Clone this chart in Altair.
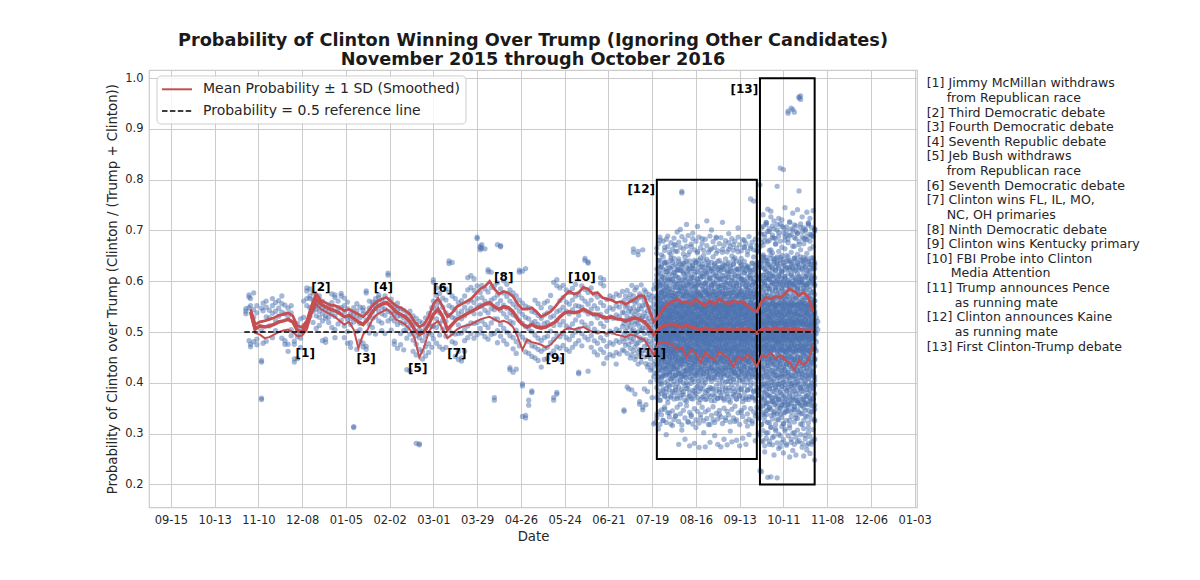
import altair as alt
import pandas as pd

TITLE_LINES = [
    "Probability of Clinton Winning Over Trump (Ignoring Other Candidates)",
    "November 2015 through October 2016",
]
MEAN_LABEL = "Mean Probability \u00b1 1 SD (Smoothed)"
REF_LABEL = "Probability = 0.5 reference line"

# Smoothed mean and +/- 1 SD bands, one value every 3 days from SMOOTH_START
SMOOTH_START = "2015-11-05"
SMOOTH_STEP_DAYS = 3
MEAN = [
    .540, .506, .512, .510, .512, .515, .520, .522, .525, .520,
    .503, .500, .515, .545, .565, .555, .550, .545, .542, .537,
    .530, .533, .527, .520, .515, .525, .540, .550, .555, .558,
    .550, .540, .535, .530, .520, .505, .495, .500, .515, .535,
    .545, .530, .505, .515, .525, .530, .535, .540, .545, .550,
    .555, .558, .550, .545, .550, .548, .540, .525, .515, .510,
    .515, .510, .508, .510, .515, .520, .530, .538, .540, .538,
    .540, .545, .540, .535, .535, .530, .528, .530, .526, .525,
    .522, .525, .528, .525, .520, .510, .495, .505, .512, .515,
    .515, .512, .510, .513, .510, .507, .505, .508, .505, .503,
    .505, .507, .505, .503, .505, .507, .505, .503, .498, .505,
    .507, .505, .508, .505, .507, .505, .506, .505, .503, .503,
    .503,
]
UPPER = [
    .545, .515, .520, .522, .525, .528, .533, .535, .538, .532,
    .512, .510, .522, .552, .576, .562, .558, .553, .552, .548,
    .542, .545, .540, .535, .530, .540, .552, .560, .565, .568,
    .560, .552, .548, .542, .535, .520, .510, .515, .530, .555,
    .566, .550, .530, .538, .550, .555, .560, .565, .575, .585,
    .590, .600, .585, .575, .580, .577, .570, .555, .545, .545,
    .548, .540, .530, .535, .540, .550, .562, .572, .580, .575,
    .578, .588, .585, .575, .578, .568, .565, .563, .558, .560,
    .555, .560, .565, .572, .570, .545, .520, .530, .545, .555,
    .560, .565, .558, .560, .555, .565, .558, .552, .562, .555,
    .565, .560, .555, .562, .558, .560, .552, .545, .540, .560,
    .568, .565, .570, .568, .575, .585, .580, .572, .578, .568,
    .540,
]
LOWER = [
    .535, .498, .495, .488, .490, .495, .500, .503, .505, .500,
    .492, .493, .505, .535, .555, .545, .540, .535, .530, .522,
    .515, .520, .505, .468, .495, .505, .525, .535, .540, .545,
    .538, .525, .520, .515, .505, .488, .450, .470, .500, .515,
    .522, .505, .488, .495, .505, .510, .513, .515, .520, .525,
    .528, .530, .525, .520, .522, .518, .510, .490, .465, .485,
    .480, .478, .475, .470, .475, .485, .495, .505, .508, .505,
    .508, .510, .505, .500, .498, .500, .497, .500, .495, .493,
    .490, .495, .493, .488, .485, .470, .455, .478, .480, .478,
    .475, .465, .470, .450, .465, .458, .440, .460, .450, .445,
    .462, .455, .448, .432, .452, .445, .455, .448, .432, .455,
    .450, .460, .447, .455, .445, .440, .425, .445, .435, .445,
    .475,
]

# National poll results (thousandths), keyed by day of month
POLLS_2015_11 = {
    2: "541 546 536", 4: "573 569 548 483", 5: "566 552 476 471",
    7: "577 544 529 481", 9: "552 538 486 475", 12: "370 367 441 444 547 503",
    13: "557 542 478", 15: "549 561 530 482", 17: "543 528 512",
    19: "566 552 537 489", 21: "558 541 522 503", 23: "562 547 531",
    25: "571 556 539 488", 27: "553 536 483 476", 29: "547 531 462 476",
}
POLLS_2015_12 = {
    1: "538 552 493 505", 3: "482 476 447 441", 5: "448 491 502 517",
    7: "497 506 470 488 526", 9: "512 529 561 503", 11: "587 581 566 552",
    13: "566 571 548 531 585", 15: "577 563 547 541 519", 17: "558 545 532 551 507",
    19: "541 553 571 529 513", 21: "548 561 536 522 483", 23: "532 545 527 480 486",
    25: "553 540 519 529", 27: "575 546 558 536 509", 29: "573 568 531 505 489",
    31: "561 548 539 516",
}
POLLS_2016_01 = {
    2: "576 571 548 523", 4: "567 552 540 512 489", 6: "559 546 525 501 478",
    8: "537 527 479 470 515", 10: "314 312 548 536 520", 12: "532 541 556 501 466",
    14: "528 517 505 482 549", 16: "543 536 548 478 471", 18: "581 577 524 466 472",
    20: "547 535 515 498 561", 22: "553 559 540 527 509", 24: "566 558 547 530 496",
    26: "573 568 553 541 522", 28: "562 549 536 518 503", 30: "571 557 545 533 497",
}
POLLS_2016_02 = {
    1: "616 612 557 541 522", 3: "565 553 538 527 504", 5: "548 536 522 482 476",
    7: "557 545 531 468 515", 9: "546 532 519 475 497", 11: "543 528 516 503 465",
    13: "535 521 507 488 426", 15: "541 526 512 496 424", 17: "532 519 501 484 462",
    19: "281 527 515 493 476 455", 21: "278 280 521 505 489 466", 23: "518 502 483 462 447",
    25: "528 509 492 471 453", 27: "537 516 498 477 460", 29: "548 529 511 495 470",
}
POLLS_2016_03 = {
    1: "603 598 561 547 512 487", 3: "587 572 553 526 509 478", 5: "576 559 538 517 494 471",
    7: "592 567 549 523 506 466", 9: "585 563 538 521 492 470", 11: "640 635 578 552 533 505",
    13: "637 571 548 529 498 481", 15: "566 544 527 496 478 452", 17: "558 536 514 497 462 446",
    19: "562 541 526 498 449 443", 21: "571 549 532 505 483 462", 23: "607 583 559 541 512 489",
    25: "611 588 563 547 518 497", 27: "605 582 558 536 517 488", 29: "687 684 591 566 549 519 495",
    31: "669 662 666 578 553 536 507",
}
POLLS_2016_04 = {
    1: "672 665 592 568 551 522 498", 3: "664 585 561 543 515 491", 5: "623 619 579 556 538 509 486",
    7: "618 588 563 546 518 495", 9: "366 371 591 567 544 526 497", 11: "672 597 573 555 526 503 479",
    13: "668 670 585 562 543 515 492", 15: "601 577 553 536 507 483", 17: "594 570 547 529 500 476",
    19: "583 561 538 521 493 430 426", 21: "577 555 534 518 489 467 421", 23: "571 549 531 504 481 458 427",
    25: "622 618 563 541 524 496 473", 27: "620 557 535 517 490 398 394 334", 29: "625 551 529 511 484 461 331 336",
}
POLLS_2016_05 = {
    1: "366 356 548 526 507 481 458", 3: "384 381 541 518 501 473 452", 5: "563 539 521 494 471 449",
    7: "556 533 515 488 466 444", 9: "548 527 509 483 462 431", 11: "557 534 517 489 467 446",
    13: "561 538 519 492 470 448", 15: "572 548 529 502 479 457", 17: "598 371 366 532 513 486 463",
    19: "603 591 378 381 540 522 494 471", 21: "587 562 543 514 491 468 446", 23: "592 568 549 521 497 474",
    25: "583 559 541 512 489 466", 27: "578 555 536 508 485 462", 29: "586 563 544 516 493 470",
    31: "594 571 552 524 500 477",
}
POLLS_2016_06 = {
    2: "574 551 533 506 483 421 418", 4: "591 567 549 520 497 473", 6: "645 641 584 561 542 514 490",
    8: "638 636 578 555 536 508 485 423", 10: "587 563 545 517 493 470", 12: "575 552 534 506 483 461",
    14: "569 546 528 500 478 455", 16: "607 596 558 535 517 489 466", 18: "603 591 552 529 511 483 460 438",
    20: "564 541 523 495 472 449", 22: "571 548 530 502 479 456", 24: "568 545 527 499 476 453",
    26: "575 552 534 506 483 460 437", 28: "572 549 531 503 480 457", 30: "580 557 539 511 488 465",
}
POLLS_2016_07 = {
    1: "347 344 562 538 517 496 481 463", 2: "571 549 523 502 474", 3: "582 553 531 509 488 458 392",
    4: "566 541 519 497 476 388", 5: "574 546 527 511 490 468 449", 6: "592 562 539 520 502 481 455 386",
    7: "664 657 571 548 529 505 486 463", 8: "583 557 534 515 494 471 446 378", 9: "588 561 541 522 498 477 452",
    10: "659 652 567 544 518 501 479 461 437", 11: "575 552 533 511 489 466 363 358",
    12: "593 569 546 527 503 484 458 441", 13: "662 571 552 530 508 486 464 352 347",
    14: "583 561 538 519 497 472 451 388", 15: "579 554 531 509 485 463 438 357",
    16: "568 542 521 498 476 452 431 383", 17: "574 549 527 505 482 458 436",
    18: "563 537 514 493 469 447 425 402", 19: "571 547 522 501 477 455 428 371",
    20: "585 556 532 508 486 461 437 412 319", 21: "594 566 541 517 495 468 443 419 322",
    22: "512 498 533 474 551 462 587 419 603 391 655 338 496 528 471 541 486 553 457 571 436 612",
    23: "527 489 506 468 546 443 572 411 618 377 641 309 503 479 532 458 518 566 446 584 423 599",
    24: "503 521 485 539 457 561 436 594 402 627 366 681 491 514 467 535 499 548 453 577 429 641",
    25: "518 494 531 476 549 452 578 425 609 398 632 347 505 482 526 461 539 557 444 568 412 592",
    26: "509 487 526 463 544 448 569 413 597 384 648 326 497 519 474 531 488 552 459 581 433 607",
    27: "515 501 538 479 556 441 583 428 612 375 667 352 485 508 462 527 493 545 448 574 419 636",
    28: "521 492 507 471 542 455 591 417 624 389 638 298 499 531 476 517 464 558 441 569 427 587",
    29: "498 514 483 529 466 552 437 575 404 603 361 689 508 489 523 469 537 495 456 583 432 619",
    30: "511 526 489 543 473 561 449 586 421 615 394 341 494 517 478 533 463 549 451 572 416 603",
    31: "506 519 481 535 462 557 439 579 408 626 372 653 501 486 528 457 541 492 445 566 425 646",
}
POLLS_2016_08 = {
    1: "513 497 529 478 548 459 571 432 604 397 637 316 492 518 466 535 501 557 449 583 421 611",
    2: "508 522 486 541 468 563 445 589 414 618 381 672 497 474 529 458 513 548 437 572 428 645",
    3: "517 494 533 472 551 453 576 427 611 386 659 334 488 509 463 541 496 552 451 567 416 598",
    4: "502 525 488 539 461 567 442 596 409 629 369 697 506 481 527 469 518 561 443 588 431 621",
    5: "519 491 536 475 554 447 582 418 623 392 644 279 495 512 472 538 487 549 458 576 424 607",
    6: "505 528 484 546 466 559 435 601 403 634 358 702 499 521 466 534 479 556 447 581 419 589",
    7: "777 774 512 493 531 469 553 441 587 412 621 376 307 487 516 462 528 501 547 452 573 437 628",
    8: "509 524 487 542 463 572 451 593 416 636 383 664 503 478 531 459 517 553 444 569 423 614",
    9: "514 499 535 473 557 444 579 423 608 395 647 289 491 524 469 539 485 558 448 586 411 602",
    10: "503 521 482 538 459 564 437 591 401 617 364 712 498 513 475 532 468 551 455 578 426 639",
    11: "518 496 529 471 549 455 573 429 614 388 652 323 489 507 461 536 494 546 441 571 418 595",
    12: "507 527 485 544 467 561 446 598 411 631 374 276 502 519 477 527 464 559 452 583 433 624",
    13: "512 493 533 477 552 449 584 425 606 399 668 337 496 482 523 466 538 489 446 574 421 609",
    14: "501 519 488 540 464 566 438 592 407 625 368 695 493 516 471 534 503 549 457 568 428 632",
    15: "516 497 530 474 556 452 577 431 613 384 641 281 488 524 465 541 498 556 443 587 417 601",
    16: "509 523 486 547 461 569 443 589 415 637 379 312 501 478 529 462 514 547 451 571 436 618",
    17: "513 491 534 476 551 448 581 421 605 393 659 708 495 517 473 536 486 559 447 579 425 593",
    18: "504 526 483 541 465 563 436 597 404 628 361 273 492 509 468 531 497 553 455 576 419 642",
    19: "517 495 531 472 548 454 574 427 612 389 646 331 504 483 526 459 519 545 449 572 431 606",
    20: "506 522 487 545 462 567 441 591 413 633 372 684 490 521 474 538 482 557 442 584 423 615",
    21: "511 498 536 478 553 451 583 426 609 396 651 302 497 512 463 529 505 548 453 569 418 627",
    22: "502 520 484 539 466 560 439 595 406 621 367 274 493 526 477 543 488 552 446 578 434 597",
    23: "515 493 532 473 550 447 578 422 616 385 643 719 501 479 532 465 516 561 458 575 422 612",
    24: "508 525 489 543 463 571 444 587 412 630 377 318 486 514 469 537 495 546 441 583 427 638",
    25: "513 496 528 475 555 453 576 430 607 391 662 283 499 521 476 528 483 555 448 571 416 604",
    26: "505 521 486 540 460 565 437 593 408 626 365 701 494 508 462 535 501 549 454 586 429 621",
    27: "516 494 534 477 549 450 580 424 614 387 648 327 489 523 471 541 497 558 445 573 424 595",
    28: "503 527 482 546 468 562 442 596 410 635 374 296 505 482 527 463 518 547 452 579 437 611",
    29: "512 499 531 471 552 455 573 428 610 394 655 687 491 516 474 533 487 554 443 567 419 629",
    30: "507 523 488 542 464 568 440 590 416 624 369 279 498 511 466 539 502 551 457 582 426 608",
    31: "514 492 537 474 557 448 585 423 604 382 641 338 493 525 478 532 484 546 449 576 431 617",
}
POLLS_2016_09 = {
    1: "509 524 485 541 467 564 443 592 409 627 371 274 497 482 526 464 517 553 446 574 422 603",
    2: "515 497 533 476 551 452 579 426 611 393 657 716 489 512 471 538 496 549 452 581 418 626",
    3: "504 520 487 544 462 569 438 588 414 632 366 289 502 519 467 531 485 557 443 569 429 611",
    4: "511 494 530 473 554 449 575 431 606 385 644 331 494 476 528 461 539 548 455 587 425 597",
    5: "506 526 483 539 465 561 441 597 403 621 374 278 498 516 473 534 491 552 447 576 417 634",
    6: "517 491 535 478 548 456 582 425 615 390 663 694 487 523 465 541 503 559 451 571 432 608",
    7: "502 522 489 545 460 566 436 593 411 629 362 305 505 481 531 468 514 546 442 583 424 619",
    8: "513 498 529 470 553 451 577 429 608 397 650 284 492 518 476 537 488 554 458 572 419 601",
    9: "507 525 484 542 467 563 445 590 407 634 378 672 499 509 463 529 497 551 444 578 428 643",
    10: "514 493 536 475 556 447 584 420 613 383 646 324 488 524 472 539 481 547 453 585 421 612",
    11: "503 519 488 540 463 570 439 595 415 624 368 287 501 515 466 533 492 556 448 570 434 596",
    12: "516 496 532 472 550 453 574 427 609 392 658 705 495 478 527 459 518 549 456 579 416 623",
    13: "508 527 485 547 461 562 442 591 410 637 375 276 490 521 474 536 499 558 441 573 427 609",
    14: "512 490 534 476 555 448 580 423 603 388 645 342 503 512 468 542 486 545 452 582 423 631",
    15: "505 521 487 543 466 567 437 596 406 626 363 291 496 483 529 462 515 553 447 574 419 604",
    16: "517 497 530 473 549 454 578 432 617 395 667 681 489 517 475 534 493 557 454 568 431 616",
    17: "502 524 483 538 462 565 444 589 413 631 371 279 498 526 463 538 482 548 445 586 424 599",
    18: "514 492 535 479 552 446 583 421 607 386 652 315 493 509 471 531 504 552 458 577 418 627",
    19: "506 520 489 544 464 569 440 594 409 622 367 298 502 519 466 540 489 546 443 571 429 611",
    20: "511 495 528 471 557 451 576 428 612 396 665 762 487 524 477 535 496 559 451 583 425 606",
    21: "504 526 486 541 459 564 438 592 416 635 373 325 499 481 528 461 516 550 448 575 417 621",
    22: "515 499 533 474 551 455 581 425 605 384 648 758 491 513 472 537 487 555 457 569 432 598",
    23: "507 522 484 546 463 568 443 597 411 628 365 286 504 521 467 530 498 547 442 584 426 613",
    24: "513 494 531 478 554 450 573 430 610 391 660 339 495 508 474 543 483 556 453 578 419 637",
    25: "508 523 487 540 466 562 439 588 414 633 376 301 492 518 469 534 501 549 446 572 428 605",
    26: "790 512 494 536 471 558 446 589 418 627 391 668 348 227 497 523 468 541 486 559 437 612 401 637 352 694",
    27: "509 527 483 548 462 571 437 603 409 641 372 693 317 225 491 516 474 537 502 554 445 589 411 628 366 676",
    28: "516 498 539 476 554 451 584 427 612 398 652 356 731 286 503 486 528 459 517 563 432 601 396 649 338 708",
    29: "503 521 486 543 468 566 442 597 414 633 381 679 334 264 494 521 471 544 488 557 448 593 405 624 371 687",
    30: "514 491 532 473 559 455 591 423 619 395 647 362 712 301 499 512 463 536 482 571 441 608 414 641 345 715",
}
POLLS_2016_10 = {
    1: "507 526 488 545 465 573 439 604 411 638 377 742 322 214 488 519 476 531 505 552 434 586 399 617 359 698",
    2: "518 495 534 477 552 449 586 428 615 389 661 351 703 279 496 527 467 542 491 561 446 605 408 633 374 681",
    3: "502 523 484 541 463 568 444 599 407 629 373 738 313 215 501 483 529 458 516 555 439 591 417 652 348 727",
    4: "513 497 530 471 557 452 581 425 610 396 656 364 686 292 492 518 473 539 487 564 443 598 402 626 363 691",
    5: "508 520 487 547 466 563 438 595 416 636 383 719 341 258 497 514 465 533 499 558 436 611 409 644 337 703",
    6: "515 493 537 474 553 447 588 422 621 392 645 359 674 306 489 522 478 546 484 553 447 587 415 621 369 684",
    7: "504 528 482 544 461 575 441 602 409 634 376 787 328 213 504 516 469 538 493 567 431 603 398 638 352 712",
    8: "511 498 533 478 556 453 583 427 613 398 659 367 724 271 495 481 527 462 518 556 442 594 411 629 344 696",
    9: "506 522 485 540 467 569 436 596 415 642 381 823 337 296 491 519 474 541 486 551 438 609 404 647 367 679",
    10: "517 494 531 472 551 450 587 424 618 393 651 357 708 283 498 524 466 532 503 562 445 588 413 619 356 721",
    11: "503 525 489 546 464 566 443 600 412 631 374 820 319 262 493 512 479 537 489 558 433 597 401 636 341 706",
    12: "514 496 535 476 558 448 579 426 609 397 664 362 745 309 501 518 463 545 484 554 448 606 416 623 372 688",
    13: "508 521 483 542 462 572 437 593 418 639 385 691 344 277 496 486 529 459 514 565 437 592 407 651 349 699",
    14: "515 492 538 470 554 454 585 421 616 391 648 353 935 931 490 521 476 535 498 557 444 601 412 627 365 683",
    15: "502 527 486 543 466 564 442 598 410 627 378 716 326 254 503 515 468 542 487 552 435 589 403 641 358 717",
    16: "512 497 529 477 552 451 582 428 611 399 657 368 941 289 494 522 472 538 501 561 449 596 414 632 343 692",
    17: "507 520 484 548 461 570 439 594 413 636 382 734 938 267 499 483 527 463 517 556 438 608 399 624 371 701",
    18: "516 495 536 473 557 446 589 423 620 394 669 347 933 302 492 519 475 534 489 553 446 591 408 645 354 686",
    19: "504 523 488 541 465 567 444 601 408 644 371 698 331 258 497 513 467 541 485 566 432 603 415 629 366 709",
    20: "511 498 532 471 553 453 584 425 614 396 653 361 741 284 489 524 478 537 502 554 443 587 402 637 347 694",
    21: "506 526 485 546 463 574 438 597 417 632 379 778 963 961 502 516 464 532 491 559 439 599 411 622 362 678",
    22: "517 493 534 475 556 449 586 422 608 390 662 355 965 958 495 521 473 544 486 557 447 604 405 648 339 713",
    23: "503 521 489 543 467 563 441 599 411 640 384 727 318 273 491 482 528 461 515 553 434 593 417 626 368 697",
    24: "513 496 531 472 558 455 580 429 617 398 647 364 705 256 498 517 469 539 503 562 445 588 409 634 351 684",
    25: "508 524 483 547 464 568 436 592 414 628 373 683 335 297 493 523 476 533 488 556 441 607 403 643 359 702",
    26: "515 491 537 476 551 452 587 425 611 392 655 358 736 268 500 514 466 540 494 551 436 595 414 621 373 689",
    27: "504 527 486 540 462 571 443 596 409 637 381 711 312 281 496 519 472 545 485 564 448 602 407 639 346 715",
    28: "512 494 533 478 555 447 583 427 619 395 664 366 724 261 490 485 529 462 513 558 433 590 416 628 364 693",
    29: "507 522 488 545 466 565 440 603 415 633 376 689 343 279 503 518 475 536 492 553 442 609 401 646 355 706",
    30: "514 497 530 471 553 454 578 423 612 388 646 354 739 285 494 522 468 543 487 557 439 597 412 624 369 688",
    31: "509 519 485 542 468 562 445 594 412 625 379 702 327 248 499 516 473 538 502 561 446 591 405 633 348 699",
}
POLLS_2016_11 = {1: "528 512 497 481 463", 2: "521 505"}

# State-level polls added once the general-election campaign started
STATE_POLLS_2016_07 = {
    22: "452 468 487 499 514 526 541 556 371 405 433 567 589 624 331 665",
    23: "461 474 491 503 517 533 546 559 384 412 437 574 598 631 343 674",
    24: "447 463 480 494 508 529 538 552 366 398 426 563 592 615 318 687",
    25: "455 469 485 502 511 524 543 557 379 409 439 578 604 628 337 652",
    26: "449 466 478 493 506 519 535 548 388 417 431 569 587 622 326 679",
    27: "463 476 489 505 513 531 547 561 373 401 442 576 601 637 348 661",
    28: "451 472 484 497 509 523 539 553 381 414 428 565 595 619 322 683",
    29: "457 465 482 501 516 527 544 558 369 396 435 572 606 633 341 668",
    30: "446 473 488 495 507 532 536 549 386 419 441 579 591 626 333 657",
    31: "459 467 486 498 512 525 542 555 375 408 429 566 599 641 319 676",
}
STATE_POLLS_2016_08 = {
    1: "453 470 481 500 515 528 540 554 383 411 436 571 602 629 345 663",
    2: "462 475 490 496 508 521 545 559 368 403 432 577 594 617 328 685",
    3: "448 464 487 503 511 534 537 551 391 415 440 564 588 634 336 671",
    4: "456 471 479 494 518 526 548 556 374 399 427 574 608 623 352 659",
    5: "450 468 492 499 510 530 541 553 382 418 438 568 597 639 324 677",
    6: "464 473 484 502 513 522 536 560 370 406 433 580 590 621 339 667",
    7: "447 466 489 497 516 529 543 552 387 413 443 566 603 632 317 688",
    8: "458 477 483 504 509 524 539 557 377 400 430 575 596 618 346 654",
    9: "452 462 486 495 517 533 546 550 366 416 437 570 586 636 331 681",
    10: "460 469 480 501 512 527 538 555 389 410 425 578 605 627 355 669",
    11: "449 474 491 498 507 520 544 558 372 397 441 563 593 624 323 690",
    12: "455 467 485 503 514 535 540 551 380 419 434 573 600 640 342 658",
    13: "463 472 488 496 511 526 547 554 369 407 429 567 591 620 334 673",
    14: "446 465 482 500 519 523 537 559 385 414 439 576 607 631 319 684",
    15: "457 476 490 494 508 531 542 553 376 402 436 569 595 625 349 662",
    16: "451 463 484 505 515 528 549 556 390 417 426 579 589 638 327 679",
    17: "461 470 479 497 510 521 536 552 371 409 442 565 604 619 344 656",
    18: "448 475 487 502 516 532 545 557 383 398 431 574 598 634 321 687",
    19: "459 468 492 499 509 525 539 550 367 415 440 571 592 622 338 666",
    20: "454 464 481 495 513 530 543 558 388 405 428 577 609 629 352 675",
    21: "462 473 486 504 518 524 538 555 374 418 437 566 596 641 325 661",
    22: "447 469 489 498 506 533 546 551 381 400 433 580 588 618 343 683",
    23: "456 477 483 501 514 522 541 559 368 413 444 568 602 633 330 670",
    24: "450 466 491 496 511 529 537 553 386 408 429 575 594 626 347 657",
    25: "463 471 480 503 517 527 548 556 373 419 438 563 606 620 318 689",
    26: "452 474 485 500 508 534 540 552 389 403 432 572 591 637 336 664",
    27: "458 462 488 494 515 521 544 557 377 411 443 578 599 624 353 678",
    28: "445 470 482 502 512 531 539 550 365 416 427 567 587 632 322 667",
    29: "460 476 490 497 509 526 545 558 384 406 439 574 603 619 340 685",
    30: "453 465 487 505 516 523 536 554 370 417 434 570 595 639 329 660",
    31: "461 472 481 499 510 532 547 551 387 399 441 579 590 627 346 674",
}
STATE_POLLS_2016_09 = {
    1: "449 468 486 503 513 525 542 556 375 412 430 565 605 621 333 686",
    2: "457 474 492 495 518 530 538 559 382 404 437 573 592 635 320 663",
    3: "451 463 483 501 507 527 546 552 369 418 442 576 598 623 350 671",
    4: "464 477 488 498 514 522 541 557 390 401 428 569 587 630 326 680",
    5: "446 469 480 504 511 534 544 550 378 415 436 577 607 618 344 658",
    6: "458 466 491 497 516 528 537 555 366 409 440 564 596 637 337 676",
    7: "453 475 485 500 509 520 549 558 385 402 431 575 589 626 323 668",
    8: "462 464 489 496 517 533 540 553 372 416 438 568 601 620 348 684",
    9: "448 471 482 502 512 526 545 551 389 407 426 579 593 633 331 661",
    10: "456 476 487 505 508 524 539 556 376 419 443 566 604 622 354 679",
    11: "450 467 490 499 515 531 546 559 368 400 432 574 590 640 327 665",
    12: "463 473 484 494 510 527 538 552 383 412 437 570 599 625 341 687",
    13: "447 465 488 503 519 522 543 557 374 405 429 578 586 617 318 672",
    14: "459 478 481 500 513 535 540 554 387 417 441 565 606 634 346 660",
    15: "452 462 492 496 506 529 547 550 370 403 434 573 594 624 334 682",
    16: "461 470 486 504 516 523 536 558 380 414 427 568 602 639 351 667",
    17: "446 474 483 498 511 532 544 553 367 410 439 576 591 621 324 675",
    18: "457 466 489 501 518 525 541 556 386 401 435 571 597 630 339 659",
    19: "454 477 480 495 508 530 548 551 373 418 442 564 588 627 328 688",
    20: "460 469 491 502 514 521 537 557 388 406 430 579 605 619 349 669",
    21: "448 463 485 497 510 534 545 552 371 413 438 567 593 636 320 677",
    22: "458 475 487 505 517 526 539 559 382 399 426 575 600 623 343 662",
    23: "451 468 482 499 512 528 542 554 369 416 444 570 589 632 335 683",
    24: "463 472 490 496 509 533 546 550 384 408 433 577 596 620 352 671",
    25: "449 464 484 503 515 524 538 556 376 411 440 566 607 628 330 658",
    26: "455 472 489 506 521 538 553 362 387 414 576 603 629 297 331 682",
    27: "448 466 484 499 517 532 549 371 396 428 569 594 638 284 318 705",
    28: "461 478 493 510 526 541 557 354 381 419 581 612 647 306 342 671",
    29: "452 469 486 503 514 535 551 367 392 431 573 599 624 276 325 693",
    30: "458 475 491 508 523 544 556 359 385 422 578 607 641 291 338 716",
}
STATE_POLLS_2016_10 = {
    1: "447 463 482 497 519 530 548 376 399 434 566 591 633 302 347 678",
    2: "460 471 488 505 515 539 554 351 388 417 584 604 627 285 321 698",
    3: "453 468 494 501 522 533 550 364 394 425 571 613 645 312 336 662",
    4: "449 476 485 509 518 543 557 370 383 436 577 596 622 278 329 709",
    5: "464 467 490 498 524 536 552 357 401 420 568 608 639 295 344 685",
    6: "451 473 483 507 513 531 549 373 390 429 583 600 629 309 318 673",
    7: "457 479 492 502 520 540 555 361 386 415 574 593 648 282 339 701",
    8: "446 465 487 511 516 534 551 368 397 433 565 611 625 299 327 689",
    9: "462 470 481 504 525 537 558 352 384 424 579 598 636 274 349 713",
    10: "450 477 495 500 519 542 553 377 393 418 572 605 621 314 332 667",
    11: "459 464 486 506 514 529 547 363 402 430 580 590 643 288 320 696",
    12: "454 472 489 497 521 535 556 356 389 426 567 609 631 305 341 681",
    13: "448 468 493 509 517 545 550 369 382 437 576 597 626 280 326 707",
    14: "463 474 484 503 523 532 554 358 398 421 570 602 640 296 345 676",
    15: "452 466 491 499 515 538 548 374 387 432 585 594 623 311 317 690",
    16: "458 478 482 507 526 541 557 360 395 416 573 614 637 283 334 703",
    17: "447 469 488 502 518 533 552 366 391 428 564 601 628 301 348 669",
    18: "461 475 494 510 513 539 549 353 384 435 578 595 646 279 323 711",
    19: "455 463 485 498 524 530 555 378 400 419 569 606 622 293 337 684",
    20: "450 471 490 505 520 546 551 365 386 423 582 592 634 307 330 695",
    21: "464 477 487 501 516 536 558 359 397 431 575 610 627 286 343 672",
    22: "449 467 483 508 522 534 547 372 389 426 566 598 642 298 319 706",
    23: "456 473 492 496 519 543 553 355 392 418 579 603 624 281 340 687",
    24: "460 465 486 504 515 531 550 367 383 434 571 596 638 310 326 674",
    25: "451 476 489 500 525 540 556 361 399 422 583 609 629 290 346 699",
    26: "457 470 495 506 517 537 548 375 387 429 568 593 645 277 333 682",
    27: "446 464 484 511 523 533 554 357 394 417 577 612 621 303 321 714",
    28: "462 478 491 499 514 544 552 370 385 436 572 600 633 294 338 679",
    29: "453 468 488 503 520 530 557 363 398 424 565 604 640 284 329 692",
    30: "459 474 482 509 516 539 549 368 390 420 580 597 626 308 344 668",
    31: "448 466 493 502 524 535 551 356 396 433 574 607 637 289 325 703",
}

POLL_MONTHS = [
    (2015, 11, POLLS_2015_11), (2015, 12, POLLS_2015_12),
    (2016, 1, POLLS_2016_01), (2016, 2, POLLS_2016_02), (2016, 3, POLLS_2016_03),
    (2016, 4, POLLS_2016_04), (2016, 5, POLLS_2016_05), (2016, 6, POLLS_2016_06),
    (2016, 7, POLLS_2016_07), (2016, 8, POLLS_2016_08), (2016, 9, POLLS_2016_09),
    (2016, 10, POLLS_2016_10), (2016, 11, POLLS_2016_11),
    (2016, 7, STATE_POLLS_2016_07), (2016, 8, STATE_POLLS_2016_08),
    (2016, 9, STATE_POLLS_2016_09), (2016, 10, STATE_POLLS_2016_10),
]

# Event markers: label, date, probability where the label sits
EVENTS = [
    ("[1]", "2015-12-10", 0.458), ("[2]", "2015-12-20", 0.588),
    ("[3]", "2016-01-18", 0.448), ("[4]", "2016-01-29", 0.588),
    ("[5]", "2016-02-20", 0.430), ("[6]", "2016-03-07", 0.587),
    ("[7]", "2016-03-16", 0.459), ("[8]", "2016-04-15", 0.608),
    ("[9]", "2016-05-18", 0.449), ("[10]", "2016-06-04", 0.609),
    ("[11]", "2016-07-19", 0.458), ("[12]", "2016-07-12", 0.782),
    ("[13]", "2016-09-16", 0.978),
]
# Key to the event markers; a zero-width space keeps the indent from being trimmed
IND = "\u200b" + "\u00a0"
EVENT_NOTES = [
    "[1] Jimmy McMillan withdraws", IND + "\u00a0" * 4 + "from Republican race",
    "[2] Third Democratic debate",
    "[3] Fourth Democratic debate",
    "[4] Seventh Republic debate",
    "[5] Jeb Bush withdraws", IND + "\u00a0" * 4 + "from Republican race",
    "[6] Seventh Democratic debate",
    "[7] Clinton wins FL, IL, MO,", IND + "\u00a0" * 4 + "NC, OH primaries",
    "[8] Ninth Democratic debate",
    "[9] Clinton wins Kentucky primary",
    "[10] FBI Probe into Clinton", IND + "\u00a0" * 5 + "Media Attention",
    "[11] Trump announces Pence", IND + "\u00a0" * 6 + "as running mate",
    "[12] Clinton announces Kaine", IND + "\u00a0" * 6 + "as running mate",
    "[13] First Clinton-Trump debate",
]
# Highlighted windows: start, end, low, high
BOXES = [
    ("2016-07-22", "2016-09-24", 0.25, 0.80),
    ("2016-09-26", "2016-10-31", 0.20, 1.00),
]
REF_SPAN = ("2015-11-01", "2016-10-31")
X_DOMAIN = ("2015-09-01T00:00", "2017-01-04T12:00")
X_TICKS = [
    "2015-09-15", "2015-10-13", "2015-11-10", "2015-12-08", "2016-01-05",
    "2016-02-02", "2016-03-01", "2016-03-29", "2016-04-26", "2016-05-24",
    "2016-06-21", "2016-07-19", "2016-08-16", "2016-09-13", "2016-10-11",
    "2016-11-08", "2016-12-06", "2017-01-03",
]
Y_DOMAIN = (0.155, 1.016)
Y_TICKS = [0.2, 0.3, 0.4, 0.5, 0.6, 0.7, 0.8, 0.9, 1.0]

BLUE = "#4c72b0"
RED = "#c44e52"
INK = "#262626"
FONT = "DejaVu Sans"
DASH = [5.5, 2.4]


def to_dt(s):
    t = pd.Timestamp(s)
    return alt.DateTime(year=t.year, month=t.month, date=t.day,
                        hours=t.hour, minutes=t.minute, utc=True)


rows = []
for year, month, days in POLL_MONTHS:
    for day, vals in days.items():
        for v in vals.split():
            rows.append({"date": f"{year}-{month:02d}-{day:02d}", "p": int(v) / 1000})
polls = pd.DataFrame(rows)

smooth_dates = pd.date_range(SMOOTH_START, periods=len(MEAN),
                             freq=f"{SMOOTH_STEP_DAYS}D").strftime("%Y-%m-%d")
lines = pd.concat([
    pd.DataFrame({"date": smooth_dates, "p": vals, "series": name})
    for name, vals in (("upper", UPPER), ("lower", LOWER), ("mean", MEAN))
], ignore_index=True)
ref = pd.DataFrame({"date": list(REF_SPAN), "p": [0.5, 0.5]})
boxes = pd.DataFrame(BOXES, columns=["start", "end", "low", "high"])
events = pd.DataFrame(EVENTS, columns=["label", "date", "p"])

x_scale = alt.Scale(type="utc", domain=[to_dt(d) for d in X_DOMAIN])
y_scale = alt.Scale(domain=list(Y_DOMAIN), nice=False, zero=False)
x_axis = alt.Axis(values=[to_dt(d) for d in X_TICKS],
                  labelExpr="utcFormat(datum.value, '%m-%d')",
                  title="Date", labelPadding=7, titlePadding=4, labelFlush=False,
                  labelOverlap=False)
y_axis = alt.Axis(values=Y_TICKS, format=".1f", labelPadding=6, titlePadding=5,
                  title="Probability of Clinton over Trump (Clinton / (Trump + Clinton))")


def X(field):
    return alt.X(field, type="temporal", scale=x_scale, axis=x_axis)


def Y(field):
    return alt.Y(field, type="quantitative", scale=y_scale, axis=y_axis)


points = alt.Chart(polls).mark_circle(size=28, opacity=0.5, color=BLUE).encode(
    x=X("date"), y=Y("p")
)

windows = alt.Chart(boxes).mark_rect(fillOpacity=0, stroke="black", strokeWidth=2).encode(
    x=X("start"), x2="end", y=Y("low"), y2="high"
)

trend = alt.Chart(lines).mark_line(color=RED).encode(
    x=X("date"), y=Y("p"),
    strokeWidth=alt.StrokeWidth("series:N", legend=None,
                                scale=alt.Scale(domain=["mean", "upper", "lower"],
                                                range=[3.5, 2, 2])),
    detail="series:N",
)

reference = alt.Chart(ref).mark_line(color="black", strokeWidth=1.5, strokeDash=DASH).encode(
    x=X("date"), y=Y("p"),
)

event_labels = alt.Chart(events).mark_text(
    font=FONT, fontSize=12, fontWeight="bold", color="black",
    align="center", baseline="middle",
).encode(x=X("date"), y=Y("p"), text="label:N")

notes = alt.Chart(pd.DataFrame({"n": [0]})).mark_text(
    text=EVENT_NOTES, font=FONT, fontSize=12.6, lineHeight=14.63, color=INK,
    align="left", baseline="top",
).encode(x=alt.value(777.7), y=alt.value(7.3))

# Key box in the upper-left corner of the plot
key_anchor = alt.Chart(pd.DataFrame({"n": [0]}))
key_box = key_anchor.mark_rect(
    fill="white", fillOpacity=0.8, stroke="#cccccc", strokeWidth=1, cornerRadius=4
).encode(x=alt.value(8), x2=alt.value(317), y=alt.value(6), y2=alt.value(54))
key_mean = key_anchor.mark_rule(color=RED, strokeWidth=2).encode(
    x=alt.value(13), x2=alt.value(43), y=alt.value(19.3))
key_ref = key_anchor.mark_rule(color="black", strokeWidth=1.5, strokeDash=DASH).encode(
    x=alt.value(13), x2=alt.value(43), y=alt.value(41))
key_text_mean = key_anchor.mark_text(
    text=MEAN_LABEL, font=FONT, fontSize=14, color=INK, align="left", baseline="middle"
).encode(x=alt.value(54), y=alt.value(19.3))
key_text_ref = key_anchor.mark_text(
    text=REF_LABEL, font=FONT, fontSize=14, color=INK, align="left", baseline="middle"
).encode(x=alt.value(54), y=alt.value(41))

chart = alt.layer(
    points, windows, trend, reference, event_labels, notes,
    key_box, key_mean, key_ref, key_text_mean, key_text_ref,
).properties(
    width=768,
    height=437.3,
    padding={"left": 149, "top": 70, "right": 283, "bottom": 73},
    autosize=alt.AutoSizeParams(type="none"),
    background="white",
    title=alt.TitleParams(
        text=TITLE_LINES, font=FONT, fontSize=17.7, fontWeight="bold", color="#1a1a1a",
        anchor="middle", frame="group", lineHeight=19.5, offset=1,
    ),
).configure_view(
    stroke="#cccccc", strokeWidth=1.2
).configure_axis(
    grid=True, gridColor="#cccccc", gridWidth=1, ticks=False, domain=False,
    labelFont=FONT, titleFont=FONT, labelColor=INK, titleColor=INK,
    labelFontSize=11.5, titleFontSize=13.3, titleFontWeight="normal",
)

chart.save("out.html", embed_options={"renderer": "svg", "actions": False})
